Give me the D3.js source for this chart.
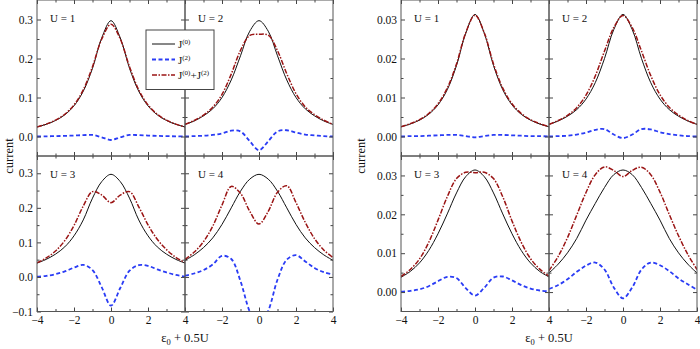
<!DOCTYPE html>
<html>
<head>
<meta charset="utf-8">
<script src="https://cdn.jsdelivr.net/npm/d3@7"></script>
<style>
  body { margin: 0; background: #fff; }
  svg { display: block; }
  text { font-family: "Liberation Serif", "Times New Roman", serif; fill: #111; }
</style>
</head>
<body>
<div id="vis"></div>
<script>
// x grid (eps0 + 0.5U)
const xs = [-4, -3.5, -3, -2.5, -2, -1.5, -1, -0.5, 0, 0.5, 1, 1.5, 2, 2.5, 3, 3.5, 4];
const uLabels = ["U = 1", "U = 2", "U = 3", "U = 4"];

// left figure, J(0), J(2), J(0)+J(2)
const L1_j0  = [0.0245, 0.0313, 0.041, 0.0556, 0.0786, 0.116, 0.175, 0.253, 0.297, 0.253, 0.175, 0.116, 0.0786, 0.0556, 0.041, 0.0313, 0.0245];
const L1_j2  = [0, 0.0005, 0.001, 0.0015, 0.0025, 0.0035, 0.004, -0.002, -0.009, -0.002, 0.004, 0.0035, 0.0025, 0.0015, 0.001, 0.0005, 0];
const L1_sum = [0.0245, 0.0318, 0.042, 0.0571, 0.081, 0.1195, 0.179, 0.250, 0.288, 0.250, 0.179, 0.1195, 0.081, 0.0571, 0.042, 0.0318, 0.0245];

const L2_j0  = [0.031, 0.040, 0.053, 0.071, 0.100, 0.145, 0.207, 0.270, 0.297, 0.270, 0.207, 0.145, 0.100, 0.071, 0.053, 0.040, 0.031];
const L2_j2  = [0, 0.001, 0.002, 0.004, 0.008, 0.015, 0.013, -0.012, -0.035, -0.012, 0.013, 0.016, 0.010, 0.005, 0.003, 0.001, 0];
const L2_sum = [0.031, 0.041, 0.055, 0.075, 0.108, 0.160, 0.221, 0.259, 0.262, 0.260, 0.220, 0.161, 0.110, 0.076, 0.056, 0.042, 0.031];

const L3_j0  = [0.040, 0.051, 0.066, 0.087, 0.119, 0.165, 0.228, 0.276, 0.297, 0.276, 0.228, 0.165, 0.119, 0.087, 0.066, 0.051, 0.040];
const L3_j2  = [0.001, 0.003, 0.008, 0.016, 0.027, 0.035, 0.020, -0.030, -0.083, -0.032, 0.018, 0.034, 0.032, 0.022, 0.013, 0.006, 0.001];
const L3_sum = [0.041, 0.055, 0.075, 0.105, 0.149, 0.205, 0.247, 0.237, 0.215, 0.237, 0.247, 0.203, 0.151, 0.109, 0.079, 0.057, 0.042];

const L4_j0  = [0.048, 0.064, 0.085, 0.113, 0.152, 0.200, 0.248, 0.283, 0.297, 0.283, 0.248, 0.200, 0.152, 0.113, 0.085, 0.064, 0.048];
const L4_j2  = [0.004, 0.010, 0.020, 0.036, 0.061, 0.052, -0.012, -0.100, -0.145, -0.098, -0.008, 0.050, 0.063, 0.045, 0.026, 0.014, 0.007];
const L4_sum = [0.051, 0.072, 0.102, 0.147, 0.208, 0.262, 0.242, 0.190, 0.153, 0.190, 0.245, 0.264, 0.215, 0.158, 0.111, 0.078, 0.056];

// right figure
const R1_j0  = [0.0025, 0.0032, 0.0042, 0.0057, 0.0081, 0.0120, 0.0182, 0.0265, 0.0313, 0.0265, 0.0182, 0.0120, 0.0081, 0.0057, 0.0042, 0.0032, 0.0025];
const R1_j2  = [0, 0.0001, 0.0001, 0.0002, 0.0003, 0.0004, 0.0004, 0.0001, -0.0002, 0.0001, 0.0004, 0.0004, 0.0003, 0.0002, 0.0001, 0.0001, 0];
const R1_sum = [0.0025, 0.0033, 0.0043, 0.0059, 0.0084, 0.0124, 0.0186, 0.0266, 0.0311, 0.0266, 0.0186, 0.0124, 0.0084, 0.0059, 0.0043, 0.0033, 0.0025];

const R2_j0  = [0.0031, 0.0040, 0.0052, 0.0069, 0.0096, 0.0138, 0.0200, 0.0274, 0.0313, 0.0274, 0.0200, 0.0138, 0.0096, 0.0069, 0.0052, 0.0040, 0.0031];
const R2_j2  = [0, 0.0001, 0.0002, 0.0005, 0.0010, 0.0017, 0.0019, 0.0005, -0.0004, 0.0005, 0.0019, 0.0018, 0.0011, 0.0006, 0.0003, 0.0001, 0];
const R2_sum = [0.0031, 0.0041, 0.0054, 0.0074, 0.0106, 0.0155, 0.0219, 0.0279, 0.0310, 0.0279, 0.0219, 0.0156, 0.0107, 0.0075, 0.0055, 0.0041, 0.0031];

const R3_j0  = [0.0038, 0.0053, 0.0075, 0.0107, 0.0150, 0.0201, 0.0255, 0.0297, 0.0314, 0.0297, 0.0255, 0.0201, 0.0150, 0.0107, 0.0075, 0.0053, 0.0039];
const R3_j2  = [0.0001, 0.0003, 0.0007, 0.0015, 0.0028, 0.0039, 0.0036, 0.0010, -0.0009, 0.0011, 0.0037, 0.0040, 0.0030, 0.0018, 0.0009, 0.0004, 0.0002];
const R3_sum = [0.0040, 0.0058, 0.0085, 0.0128, 0.0185, 0.0245, 0.0292, 0.0308, 0.0307, 0.0308, 0.0292, 0.0245, 0.0183, 0.0128, 0.0086, 0.0059, 0.0041];

const R4_j0  = [0.0049, 0.0072, 0.0101, 0.0138, 0.0185, 0.0228, 0.0269, 0.0302, 0.0314, 0.0302, 0.0269, 0.0228, 0.0185, 0.0138, 0.0101, 0.0072, 0.0049];
const R4_j2  = [0.0008, 0.0018, 0.0033, 0.0052, 0.0068, 0.0076, 0.0058, 0.0012, -0.0016, 0.0012, 0.0058, 0.0076, 0.0069, 0.0054, 0.0035, 0.0020, 0.0006];
const R4_sum = [0.0055, 0.0092, 0.0140, 0.0198, 0.0256, 0.0302, 0.0322, 0.0313, 0.0297, 0.0313, 0.0321, 0.0302, 0.0257, 0.0200, 0.0145, 0.0097, 0.0058];

// tick values
const xMajor = [-4, -2, 0, 2, 4];
const xMinor = [-3, -1, 1, 3];
const leftYMajor = [[0, 0.1, 0.2, 0.3], [-0.1, 0, 0.1, 0.2, 0.3]];
const leftYMinor = [[0.05, 0.15, 0.25], [-0.05, 0.05, 0.15, 0.25]];
const rightYMajor = [[0, 0.01, 0.02, 0.03], [0, 0.01, 0.02, 0.03]];
const rightYMinor = [[0.005, 0.015, 0.025], [0.005, 0.015, 0.025]];

let width = 700;
let height = 349;
let cellW = 148;
let rowY = [[0, 156], [156, 311.5]];

const styles = [
    { color: "#111", width: 1, dash: null },
    { color: "#2a3cf5", width: 1.8, dash: "4,2.5" },
    { color: "#9a1414", width: 1.5, dash: "5,1.5,1.5,1.5" }
];

let svg = d3.select("#vis").append("svg").attr("width", width).attr("height", height);

let figures = [
    {
        x0: 37, axisX: 13,
        yDomains: [[-0.05, 0.35], [-0.1, 0.35]],
        yMajor: leftYMajor, yMinor: leftYMinor,
        fmt: d3.format(".1f"),
        series: [[L1_j0, L1_j2, L1_sum], [L2_j0, L2_j2, L2_sum], [L3_j0, L3_j2, L3_sum], [L4_j0, L4_j2, L4_sum]]
    },
    {
        x0: 401, axisX: 365,
        yDomains: [[-0.005, 0.035], [-0.005, 0.035]],
        yMajor: rightYMajor, yMinor: rightYMinor,
        fmt: d3.format(".2f"),
        series: [[R1_j0, R1_j2, R1_sum], [R2_j0, R2_j2, R2_sum], [R3_j0, R3_j2, R3_sum], [R4_j0, R4_j2, R4_sum]]
    }
];

function tickAxis(g, axisFn, scale, vals, size, tr, fmt) {
    let a = g.append("g").attr("transform", tr)
        .call(axisFn(scale).tickValues(vals).tickSize(-size).tickPadding(4).tickFormat(fmt || ""));
    a.select(".domain").remove();
    a.selectAll("line").attr("stroke", "#444");
    a.selectAll("text").style("font-size", "11.5px").attr("fill", "#111");
    return a;
}

figures.forEach((fig, fi) => {
    let fg = svg.append("g");
    for (let k = 0; k < 4; k++) {
        let row = Math.floor(k / 2), col = k % 2;
        let left = fig.x0 + col * cellW, right = left + cellW;
        let top = rowY[row][0], bottom = rowY[row][1];
        let x = d3.scaleLinear().domain([-4, 4]).range([left, right]);
        let y = d3.scaleLinear().domain(fig.yDomains[row]).range([bottom, top]);

        let clipId = "clip" + fi + k;
        fg.append("clipPath").attr("id", clipId).append("rect")
            .attr("x", left).attr("y", top).attr("width", cellW).attr("height", bottom - top);

        let line = d3.line()
            .x((d, i) => x(xs[i]))
            .y(d => y(d))
            .curve(d3.curveCatmullRom.alpha(0.5));

        let lines = fg.append("g").attr("clip-path", "url(#" + clipId + ")");
        fig.series[k].forEach((s, si) => {
            lines.append("path")
                .attr("d", line(s))
                .attr("fill", "none")
                .attr("stroke", styles[si].color)
                .attr("stroke-width", styles[si].width)
                .attr("stroke-dasharray", styles[si].dash);
        });

        // ticks on all four sides, pointing in
        let yLabels = col === 0 ? fig.fmt : null;
        tickAxis(fg, d3.axisLeft, y, fig.yMajor[row], 4, "translate(" + left + ",0)", yLabels);
        tickAxis(fg, d3.axisLeft, y, fig.yMinor[row], 2.5, "translate(" + left + ",0)");
        tickAxis(fg, d3.axisRight, y, fig.yMajor[row], 4, "translate(" + right + ",0)");
        tickAxis(fg, d3.axisRight, y, fig.yMinor[row], 2.5, "translate(" + right + ",0)");
        tickAxis(fg, d3.axisTop, x, xMajor, 4, "translate(0," + top + ")");
        tickAxis(fg, d3.axisTop, x, xMinor, 2.5, "translate(0," + top + ")");
        let xVals = (row === 1 && col === 1) ? xMajor.slice(1) : xMajor;
        tickAxis(fg, d3.axisBottom, x, xVals, 4, "translate(0," + bottom + ")", row === 1 ? d3.format("d") : null);
        tickAxis(fg, d3.axisBottom, x, xMinor, 2.5, "translate(0," + bottom + ")");

        fg.append("rect")
            .attr("x", left).attr("y", top).attr("width", cellW).attr("height", bottom - top)
            .attr("fill", "none").attr("stroke", "#555").attr("stroke-width", 1);

        fg.append("text")
            .attr("x", left + 13).attr("y", top + 21.5)
            .style("font-size", "11px")
            .text(uLabels[k]);
    }

    // axis titles
    fg.append("text")
        .attr("transform", "translate(" + fig.axisX + ",156) rotate(-90)")
        .attr("text-anchor", "middle")
        .style("font-size", "12.5px")
        .text("current");

    let xt = fg.append("text")
        .attr("x", fig.x0 + cellW).attr("y", 342)
        .attr("text-anchor", "middle")
        .style("font-size", "12.5px");
    xt.append("tspan").text("\u03b5");
    xt.append("tspan").attr("dy", 3).style("font-size", "8.5px").text("0");
    xt.append("tspan").attr("dy", -3).text(" + 0.5U");
});

// legend
let legendItems = [["(0)"], ["(2)"], ["(0)", "(2)"]];
let lg = svg.append("g");
lg.append("rect").attr("x", 146).attr("y", 30).attr("width", 68).attr("height", 59.5)
    .attr("fill", "#fff").attr("stroke", "#444").attr("stroke-width", 1);
legendItems.forEach((item, i) => {
    let ly = 44 + i * 15.5;
    lg.append("line").attr("x1", 152).attr("x2", 175).attr("y1", ly).attr("y2", ly)
        .attr("stroke", styles[i].color).attr("stroke-width", styles[i].width)
        .attr("stroke-dasharray", styles[i].dash);
    let t = lg.append("text").attr("x", 178).attr("y", ly + 4).style("font-size", "11px");
    item.forEach((sup, j) => {
        if (j > 0) t.append("tspan").attr("dy", 4).text("+");
        t.append("tspan").text("J");
        t.append("tspan").attr("dy", -4).style("font-size", "7px").text(sup);
    });
});
</script>
</body>
</html>
